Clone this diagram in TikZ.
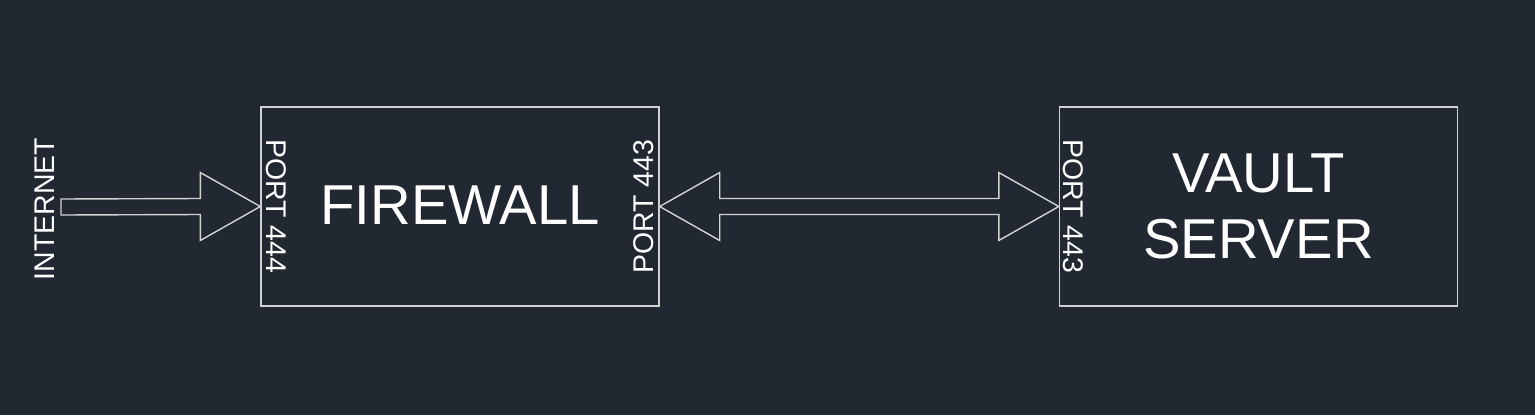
\documentclass[tikz,border=0pt]{standalone}
\usepackage{fontspec}
\setmainfont{Liberation Sans}
\usetikzlibrary{calc}
\definecolor{bgdark}{HTML}{222831}
\definecolor{linegray}{HTML}{D2D2D2}
\tikzset{
    unitbox/.style={draw=linegray,line width=0.4pt,minimum width=3.98cm,minimum height=1.99cm},
    bigtext/.style={text=white,font=\fontsize{16}{19}\selectfont,align=center},
    smalltext/.style={text=white,font=\fontsize{8.1}{9}\selectfont},
    fatline/.style={linegray,line width=0.4pt}
}
\begin{document}
\begin{tikzpicture}
        %% background
        \fill[bgdark] (0,0) rectangle (15.35,4.15);
        \useasboundingbox (0,0) rectangle (15.35,4.15);
        %% boxes
        \node[unitbox] (FW) at (4.60,2.085) {};
        \node[unitbox] (VS) at (12.585,2.085) {};
        \node[bigtext] (FWT) at ($(FW.center)+(0,0.01)$) {FIREWALL};
        \node[bigtext] (VST) at (VS.center) {VAULT\\SERVER};
        %% ports
        \node[smalltext,rotate=-90] (P444) at ($(FW.west)+(0.165,0)$) {PORT 444};
        \node[smalltext,rotate=90] (P443a) at ($(FW.east)+(-0.165,0)$) {PORT 443};
        \node[smalltext,rotate=-90] (P443b) at ($(VS.west)+(0.145,0)$) {PORT 443};
        %% input
        \node[smalltext,rotate=90] (NET) at (0.45,2.06) {INTERNET};
        \coordinate (tail) at (0.61,2.08);
        \draw[fatline] ($(tail)+(0,0.08)$) -- ($(FW.west)+(-0.6,0.08)$) -- ($(FW.west)+(-0.6,0.34)$)
            -- (FW.west) -- ($(FW.west)+(-0.6,-0.34)$) -- ($(FW.west)+(-0.6,-0.08)$) -- ($(tail)+(0,-0.08)$) -- cycle;
        %% link
        \draw[fatline] (FW.east) -- ($(FW.east)+(0.6,0.34)$) -- ($(FW.east)+(0.6,0.08)$)
            -- ($(VS.west)+(-0.6,0.08)$) -- ($(VS.west)+(-0.6,0.34)$) -- (VS.west) -- ($(VS.west)+(-0.6,-0.34)$)
            -- ($(VS.west)+(-0.6,-0.08)$) -- ($(FW.east)+(0.6,-0.08)$) -- ($(FW.east)+(0.6,-0.34)$) -- cycle;
    \end{tikzpicture}
\end{document}
